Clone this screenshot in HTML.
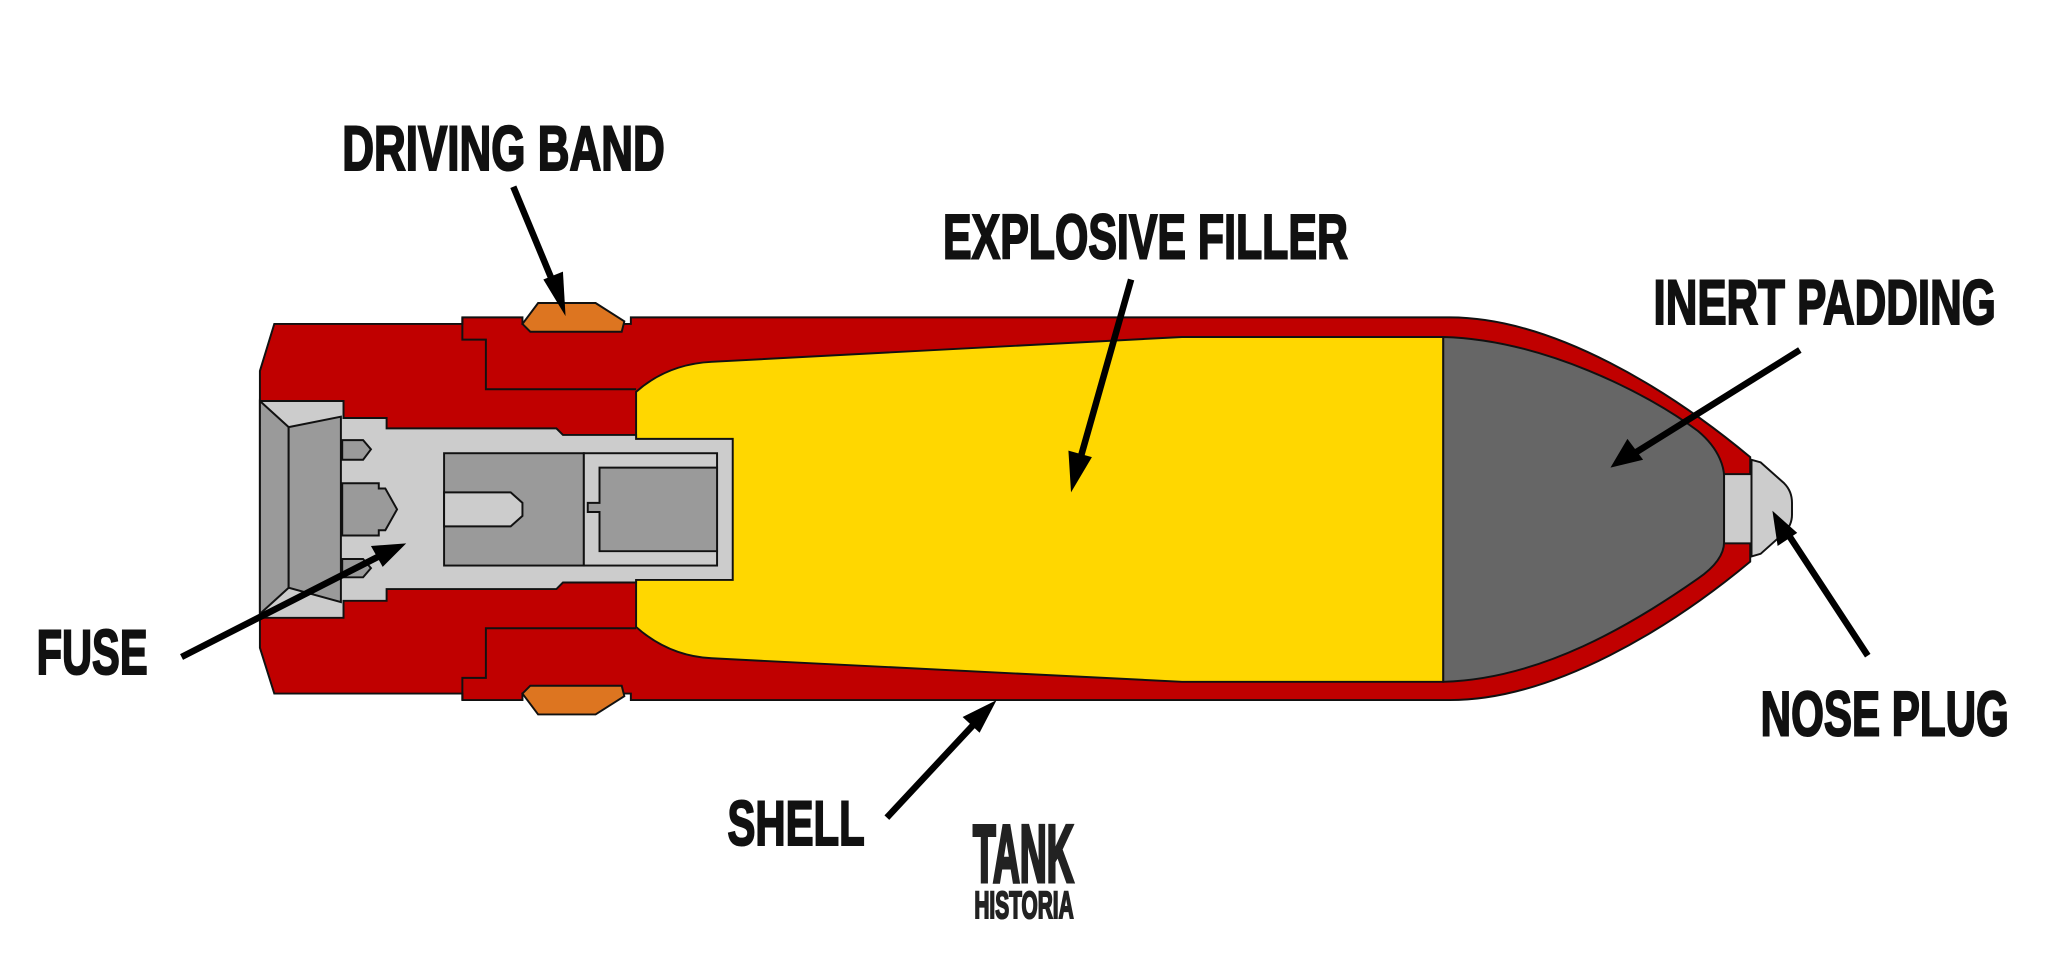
<!DOCTYPE html>
<html><head><style>
html,body{margin:0;padding:0;background:#fff;}
svg{display:block;}
text{font-family:"Liberation Sans Narrow","Liberation Sans",sans-serif;font-weight:bold;fill:#111;stroke:#111;stroke-width:1.6;}
</style></head><body>
<svg width="2048" height="976" viewBox="0 0 1568 747.25" preserveAspectRatio="none" xmlns="http://www.w3.org/2000/svg">
<rect width="1568" height="748" fill="#fff"/>
<g stroke="#111" stroke-width="1.5" stroke-linejoin="miter">
<path d="M210,248 L354,248 L354,243 L400,243 L400,248 L483,248 L483,243 L1110,243 C1190,243 1280,300 1340,350 L1340,430 C1280,480 1190,536 1110,536 L483,536 L483,531 L400,531 L400,536 L354,536 L354,531 L210,531 L199,496 L199,284 Z" fill="#c00000"/>
<path d="M400,248 L412,232 L456,232 L478,246 L476,254 L406,254 Z" fill="#dd7520"/>
<path d="M400,531 L412,547 L456,547 L478,533 L476,525 L406,525 Z" fill="#dd7520"/>
<path d="M354,243 L354,260 L372,260 L372,298 L487,298" fill="none"/>
<path d="M354,536 L354,519 L372,519 L372,481 L487,481" fill="none"/>
<path d="M487,300 C505,284 525,278 545,277 L905,258 L1105,258 L1105,522 L905,522 L545,504 C525,503 505,496 487,480 Z" fill="#ffd700"/>
<path d="M1105,258 C1180,260 1260,300 1300,330 C1318,345 1320,360 1320,365 L1320,415 C1320,422 1316,432 1300,443 C1250,478 1180,520 1105,522 Z" fill="#666"/>
<rect x="1320" y="363" width="21" height="53" fill="#ccc"/>
<path d="M1341,352 L1348,354 L1366,370 Q1372,376 1372,385 L1372,394 Q1372,402 1366,408 L1348,424 L1341,426 Z" fill="#ccc"/>
<path d="M199,307 L263,307 L263,320 L296,320 L296,328 L426,328 L431,333 L487,333 L487,336 L561,336 L561,444 L487,444 L487,446 L431,446 L426,451 L296,451 L296,460 L263,460 L263,473 L199,473 Z" fill="#ccc"/>
<path d="M199,307 L221,327 L221,450 L199,470 Z" fill="#9a9a9a"/>
<path d="M221,327 L261,319 L261,461 L221,450 Z" fill="#9a9a9a"/>
<path d="M262,337 L278,337 L284,344 L278,352 L262,352 Z" fill="#9a9a9a"/>
<path d="M262,370 L290,370 L290,374 L295,374 L304,390 L295,406 L290,406 L290,410 L262,410 Z" fill="#9a9a9a"/>
<path d="M262,428 L278,428 L284,435 L278,442 L262,442 Z" fill="#9a9a9a"/>
<rect x="340" y="347" width="107" height="86" fill="#9a9a9a"/>
<path d="M340,377 L391,377 L400,385 L400,395 L391,403 L340,403 Z" fill="#ccc"/>
<rect x="447" y="347" width="102" height="86" fill="#ccc"/>
<path d="M459,358 L549,358 L549,422 L459,422 L459,392 L450,392 L450,385 L459,385 Z" fill="#9a9a9a"/>
</g>
<g stroke="#000" stroke-width="5" fill="#000">
<line x1="393" y1="143" x2="425" y2="220"/>
<polygon points="433,242 416,214 431,208" stroke="none"/>
<line x1="866" y1="214" x2="826" y2="355"/>
<polygon points="820,377 818,345 836,350" stroke="none"/>
<line x1="1378" y1="268" x2="1253" y2="346"/>
<polygon points="1233,358 1246,336 1258,352" stroke="none"/>
<line x1="139" y1="503" x2="290" y2="426"/>
<polygon points="311,416 284,418 293,434" stroke="none"/>
<line x1="1430" y1="502" x2="1369" y2="409"/>
<polygon points="1357,391 1361,418 1376,408" stroke="none"/>
<line x1="679" y1="626" x2="748" y2="552"/>
<polygon points="763,536 737,549 750,561" stroke="none"/>
</g>
<text x="262" y="130" font-size="48" textLength="247" lengthAdjust="spacingAndGlyphs">DRIVING BAND</text>
<text x="722" y="198" font-size="48" textLength="310" lengthAdjust="spacingAndGlyphs">EXPLOSIVE FILLER</text>
<text x="1266" y="248" font-size="48" textLength="262" lengthAdjust="spacingAndGlyphs">INERT PADDING</text>
<text x="28" y="516" font-size="48" textLength="85" lengthAdjust="spacingAndGlyphs">FUSE</text>
<text x="1348" y="563" font-size="48" textLength="190" lengthAdjust="spacingAndGlyphs">NOSE PLUG</text>
<text x="557" y="647" font-size="48" textLength="105" lengthAdjust="spacingAndGlyphs">SHELL</text>
<text x="745" y="675" font-size="62" textLength="77" lengthAdjust="spacingAndGlyphs" style="fill:#222;stroke:#222;stroke-width:3">TANK</text>
<text x="746" y="703" font-size="29" textLength="76" lengthAdjust="spacingAndGlyphs" style="fill:#222;stroke:#222;stroke-width:1.6">HISTORIA</text>
</svg>
</body></html>
